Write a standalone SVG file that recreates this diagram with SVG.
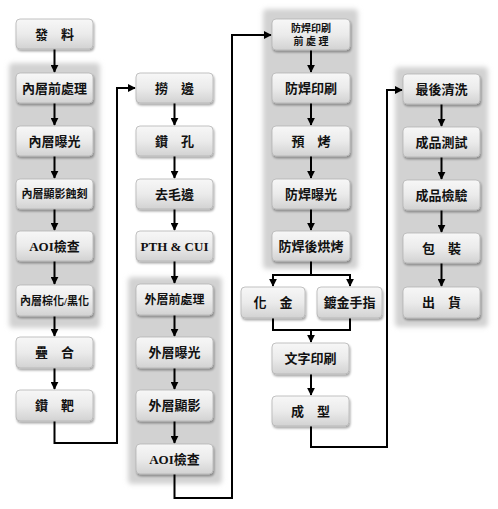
<svg xmlns="http://www.w3.org/2000/svg" width="498" height="509" viewBox="0 0 498 509">
<style>
.grp{fill:#d2d2d2;filter:url(#blur)}
.box{fill:url(#g);stroke:#b4b4b4;stroke-width:0.8;filter:url(#sh)}
.t{font-family:"Liberation Serif","Noto Sans CJK TC",serif;font-weight:700;font-size:13px;fill:#111;text-anchor:middle;dominant-baseline:central}
.s{font-size:11px}
.xs{font-size:10px}
.c{fill:none;stroke:#000;stroke-width:2}
.a{fill:none;stroke:#000;stroke-width:2;marker-end:url(#ar)}
</style>
<defs>
<linearGradient id="g" x1="0" y1="0" x2="0" y2="1">
<stop offset="0" stop-color="#f7f7f7"/>
<stop offset="0.5" stop-color="#ebebeb"/>
<stop offset="1" stop-color="#d2d2d2"/>
</linearGradient>
<filter id="blur" x="-20%" y="-20%" width="140%" height="140%"><feGaussianBlur stdDeviation="2.5"/></filter>
<filter id="sh" x="-20%" y="-30%" width="140%" height="170%">
<feDropShadow dx="1" dy="2" stdDeviation="1.2" flood-color="#000" flood-opacity="0.35"/>
</filter>
<marker id="ar" viewBox="0 0 10 10" refX="9" refY="5" markerWidth="4" markerHeight="4" orient="auto" markerUnits="strokeWidth">
<path d="M0,0 L10,5 L0,10 z" fill="#000"/>
</marker>
</defs>
<rect width="498" height="509" fill="#fff"/>
<g id="groups">
<rect class="grp" x="9" y="63" width="91" height="265" rx="4"/>
<rect class="grp" x="128" y="277" width="94" height="207" rx="4"/>
<rect class="grp" x="263" y="9" width="95" height="260" rx="4"/>
<rect class="grp" x="395" y="67" width="93" height="260" rx="4"/>
</g>
<g id="connectors">
<path class="a" d="M54.5,49 V72"/>
<path class="a" d="M54.5,103 V125"/>
<path class="a" d="M54.5,156 V178"/>
<path class="a" d="M54.5,209 V230"/>
<path class="a" d="M54.5,261 V284"/>
<path class="a" d="M54.5,316 V336"/>
<path class="a" d="M54.5,368 V389"/>
<path class="a" d="M54.5,421 V443 H117 V88 H135"/>
<path class="a" d="M174.5,103 V125"/>
<path class="a" d="M174.5,156 V178"/>
<path class="a" d="M174.5,209 V230"/>
<path class="a" d="M174.5,261 V283"/>
<path class="a" d="M174.5,315 V336"/>
<path class="a" d="M174.5,368 V389"/>
<path class="a" d="M174.5,421 V443"/>
<path class="a" d="M174.5,474 V498 H232 V35 H271"/>
<path class="a" d="M311,50 V72"/>
<path class="a" d="M311,103 V125"/>
<path class="a" d="M311,156 V178"/>
<path class="a" d="M311,209 V230"/>
<path class="c" d="M311,261 V275"/>
<path class="c" d="M273,275 H350"/>
<path class="a" d="M273,274 V286"/>
<path class="a" d="M350,274 V286"/>
<path class="c" d="M273,318 V330 H350 V318"/>
<path class="a" d="M311,330 V342"/>
<path class="a" d="M311,374 V395"/>
<path class="a" d="M311,426 V447 H387 V90 H402"/>
<path class="a" d="M441.5,104 V126"/>
<path class="a" d="M441.5,157 V179"/>
<path class="a" d="M441.5,210 V232"/>
<path class="a" d="M441.5,263 V286"/>
</g>
<g id="n1"><rect class="box" x="16" y="19" width="77" height="30" rx="4"/><text class="t" x="54.5" y="34">發　料</text></g>
<g id="n2"><rect class="box" x="16" y="73" width="77" height="30" rx="4"/><text class="t" x="54.5" y="88">內層前處理</text></g>
<g id="n3"><rect class="box" x="16" y="126" width="77" height="30" rx="4"/><text class="t" x="54.5" y="141">內層曝光</text></g>
<g id="n4"><rect class="box" x="16" y="179" width="77" height="30" rx="4"/><text class="t s" x="54.5" y="194">內層顯影蝕刻</text></g>
<g id="n5"><rect class="box" x="16" y="231" width="77" height="30" rx="4"/><text class="t" x="54.5" y="246">AOI檢查</text></g>
<g id="n6"><rect class="box" x="16" y="285" width="77" height="31" rx="4"/><text class="t s" x="54.5" y="300.5">內層棕化/黑化</text></g>
<g id="n7"><rect class="box" x="16" y="337" width="77" height="31" rx="4"/><text class="t" x="54.5" y="352.5">疊　合</text></g>
<g id="n8"><rect class="box" x="16" y="390" width="77" height="31" rx="4"/><text class="t" x="54.5" y="405.5">鑽　靶</text></g>
<g id="n9"><rect class="box" x="136" y="73" width="77" height="30" rx="4"/><text class="t" x="174.5" y="88">撈　邊</text></g>
<g id="n10"><rect class="box" x="136" y="126" width="77" height="30" rx="4"/><text class="t" x="174.5" y="141">鑽　孔</text></g>
<g id="n11"><rect class="box" x="136" y="179" width="77" height="30" rx="4"/><text class="t" x="174.5" y="194">去毛邊</text></g>
<g id="n12"><rect class="box" x="136" y="231" width="77" height="30" rx="4"/><text class="t" x="174.5" y="246">PTH &amp; CUI</text></g>
<g id="n13"><rect class="box" x="136" y="284" width="77" height="31" rx="4"/><text class="t" x="174.5" y="299.5" style="font-size:12px">外層前處理</text></g>
<g id="n14"><rect class="box" x="136" y="337" width="77" height="31" rx="4"/><text class="t" x="174.5" y="352.5">外層曝光</text></g>
<g id="n15"><rect class="box" x="136" y="390" width="77" height="31" rx="4"/><text class="t" x="174.5" y="405.5">外層顯影</text></g>
<g id="n16"><rect class="box" x="136" y="444" width="77" height="30" rx="4"/><text class="t" x="174.5" y="459">AOI檢查</text></g>
<g id="n17"><rect class="box" x="272" y="19" width="78" height="31" rx="4"/><text class="t xs" x="311" y="28.5">防焊印刷</text><text class="t xs" x="311" y="41.5">前 處 理</text></g>
<g id="n18"><rect class="box" x="272" y="73" width="78" height="30" rx="4"/><text class="t" x="311" y="88">防焊印刷</text></g>
<g id="n19"><rect class="box" x="272" y="126" width="78" height="30" rx="4"/><text class="t" x="311" y="141">預　烤</text></g>
<g id="n20"><rect class="box" x="272" y="179" width="78" height="30" rx="4"/><text class="t" x="311" y="194">防焊曝光</text></g>
<g id="n21"><rect class="box" x="272" y="231" width="78" height="30" rx="4"/><text class="t" x="311" y="246">防焊後烘烤</text></g>
<g id="n22"><rect class="box" x="241" y="287" width="64" height="31" rx="4"/><text class="t" x="273" y="302.5">化　金</text></g>
<g id="n23"><rect class="box" x="317" y="287" width="65" height="31" rx="4"/><text class="t" x="349.5" y="302.5">鍍金手指</text></g>
<g id="n24"><rect class="box" x="272" y="343" width="77" height="31" rx="4"/><text class="t" x="310.5" y="358.5">文字印刷</text></g>
<g id="n25"><rect class="box" x="272" y="396" width="77" height="30" rx="4"/><text class="t" x="310.5" y="411">成　型</text></g>
<g id="n26"><rect class="box" x="403" y="74" width="77" height="30" rx="4"/><text class="t" x="441.5" y="89">最後清洗</text></g>
<g id="n27"><rect class="box" x="403" y="127" width="77" height="30" rx="4"/><text class="t" x="441.5" y="142">成品測試</text></g>
<g id="n28"><rect class="box" x="403" y="180" width="77" height="30" rx="4"/><text class="t" x="441.5" y="195">成品檢驗</text></g>
<g id="n29"><rect class="box" x="403" y="233" width="77" height="30" rx="4"/><text class="t" x="441.5" y="248">包　裝</text></g>
<g id="n30"><rect class="box" x="403" y="287" width="77" height="31" rx="4"/><text class="t" x="441.5" y="302.5">出　貨</text></g>
</svg>
